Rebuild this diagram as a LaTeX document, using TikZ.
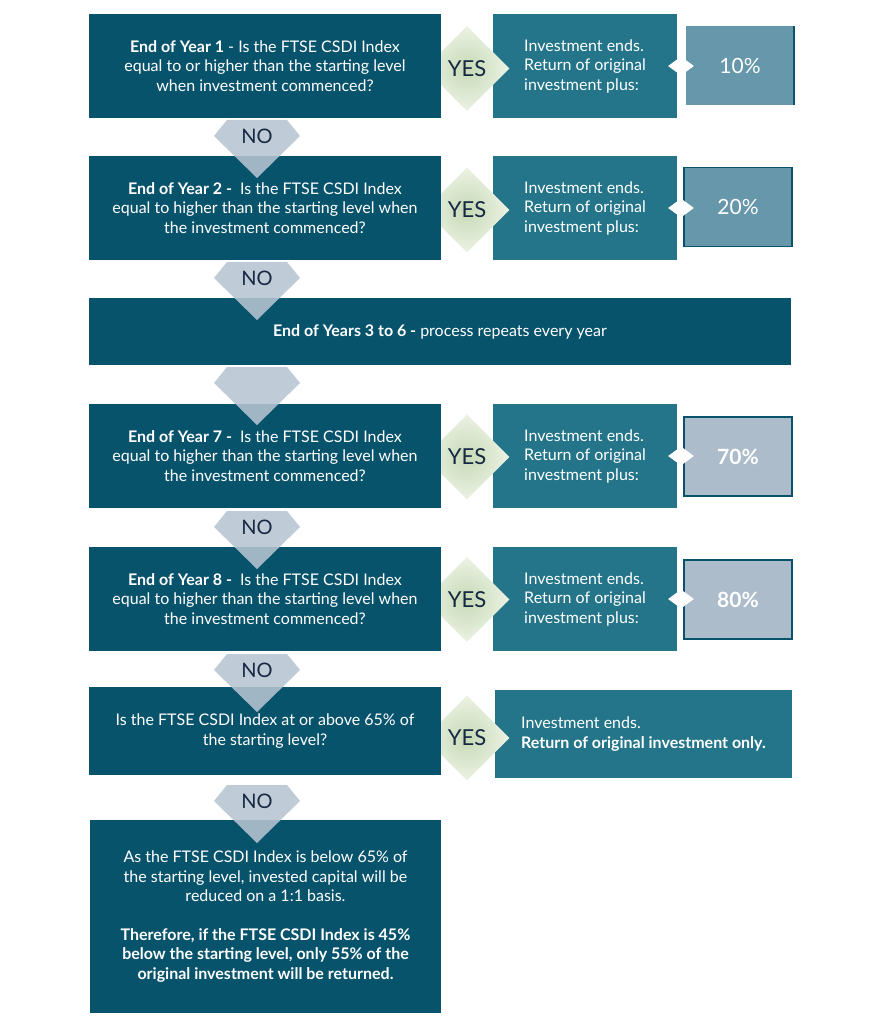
\documentclass[tikz,border=0pt]{standalone}
\usepackage{fontspec}
\setmainfont{Lato}
\usetikzlibrary{shapes.geometric}
\definecolor{QNavy}{RGB}{8,83,108}
\definecolor{EndTeal}{RGB}{36,117,138}
\definecolor{PctMid}{RGB}{102,151,170}
\definecolor{PctLight}{RGB}{172,188,203}
\definecolor{GemGrey}{RGB}{183,196,210}
\definecolor{InkNavy}{RGB}{22,40,66}
\definecolor{YesCore}{RGB}{198,218,182}
\definecolor{YesRim}{RGB}{236,242,228}
\tikzset{
  body/.style={font=\fontsize{16}{19.5}\selectfont},
  qbox/.style={body,fill=QNavy,text=white,align=center,minimum width=352,minimum height=104,inner sep=0},
  endbox/.style={body,fill=EndTeal,text=white,align=left,minimum width=184,minimum height=104,inner sep=0},
  pctbox/.style={fill=PctMid,text=white,font=\fontsize{21}{24}\selectfont,minimum width=108,minimum height=79,inner sep=0},
  framed/.style={draw=QNavy,line width=1.6},
  pctlight/.style={pctbox,framed,fill=PctLight,font=\fontsize{21}{24}\selectfont\bfseries},
  yes/.style={diamond,inner color=YesCore,outer color=YesRim,text=InkNavy,font=\fontsize{22}{24}\selectfont,minimum width=85,minimum height=85,inner sep=0},
  tip/.style={diamond,fill=white,minimum width=26,minimum height=19,inner sep=0},
  gem/.style={fill=GemGrey,fill opacity=.88},
  gemtext/.style={text=InkNavy,font=\fontsize{20}{22}\selectfont,inner sep=0}
}

\begin{document}
\begin{tikzpicture}[x=1pt,y=-1pt]
  \path[use as bounding box,fill=white] (0,0) rectangle (870,1024);
  % outcome side
  \node[endbox] (end1) at (585,66) {Investment ends.\\Return of original\\investment plus:};
  \node[endbox] (end2) at (585,208) {Investment ends.\\Return of original\\investment plus:};
  \node[endbox] (end4) at (585,456) {Investment ends.\\Return of original\\investment plus:};
  \node[endbox] (end5) at (585,599) {Investment ends.\\Return of original\\investment plus:};
  \node[endbox,minimum width=297,minimum height=88] (end6) at (643.5,734) {Investment ends.\\\textbf{Return of original investment only.}};
  \node[pctbox] (pct1) at (740,65.5) {10\%};
  \draw[QNavy,line width=1.6] (pct1.north east) -- (pct1.south east);
  \node[pctbox,framed] (pct2) at (738,207) {20\%};
  \node[pctlight] (pct4) at (738,456.5) {70\%};
  \node[pctlight] (pct5) at (738,599.5) {80\%};
  \foreach \r/\cy in {1/68.5,2/210,4/457,5/599.5,6/738}
    \node[yes] (yes\r) at (467,\cy) {YES};
  % questions
  \node[qbox] (q1) at (265,66) {\textbf{End of Year 1} - Is the FTSE CSDI Index\\equal to or higher than the starting level\\when investment commenced?};
  \node[qbox] (q2) at (265,208) {\textbf{End of Year 2 -}\ \ Is the FTSE CSDI Index\\equal to higher than the starting level when\\the investment commenced?};
  \node[qbox,minimum width=702,minimum height=67] (q3) at (440,331.5) {\textbf{End of Years 3 to 6 -} process repeats every year};
  \node[qbox] (q4) at (265,456) {\textbf{End of Year 7 -}\ \ Is the FTSE CSDI Index\\equal to higher than the starting level when\\the investment commenced?};
  \node[qbox] (q5) at (265,599) {\textbf{End of Year 8 -}\ \ Is the FTSE CSDI Index\\equal to higher than the starting level when\\the investment commenced?};
  \node[qbox,minimum height=88] (q6) at (265,731) {Is the FTSE CSDI Index at or above 65\% of\\the starting level?};
  \node[qbox,minimum width=351,minimum height=193] (q7) at (265.5,916.5) {As the FTSE CSDI Index is below 65\% of\\the starting level, invested capital will be\\reduced on a 1:1 basis.\\[19pt]\textbf{Therefore, if the FTSE CSDI Index is 45\%}\\\textbf{below the starting level, only 55\% of the}\\\textbf{original investment will be returned.}};
  \foreach \r/\cy in {1/66,2/208,4/456,5/599}
    \node[tip] (tip\r) at (681,\cy) {};
  % NO gems
  \foreach \n/\cy/\lab in {1/136/NO,2/278/NO,3/383/{},4/527/NO,5/670/NO,6/801/NO}{
    \fill[gem] (227,\cy-16) -- (287,\cy-16) -- (300,\cy) -- (257,\cy+42) -- (214,\cy) -- cycle;
    \node[gemtext] (no\n) at (257,\cy) {\lab};
  }
\end{tikzpicture}
\end{document}
